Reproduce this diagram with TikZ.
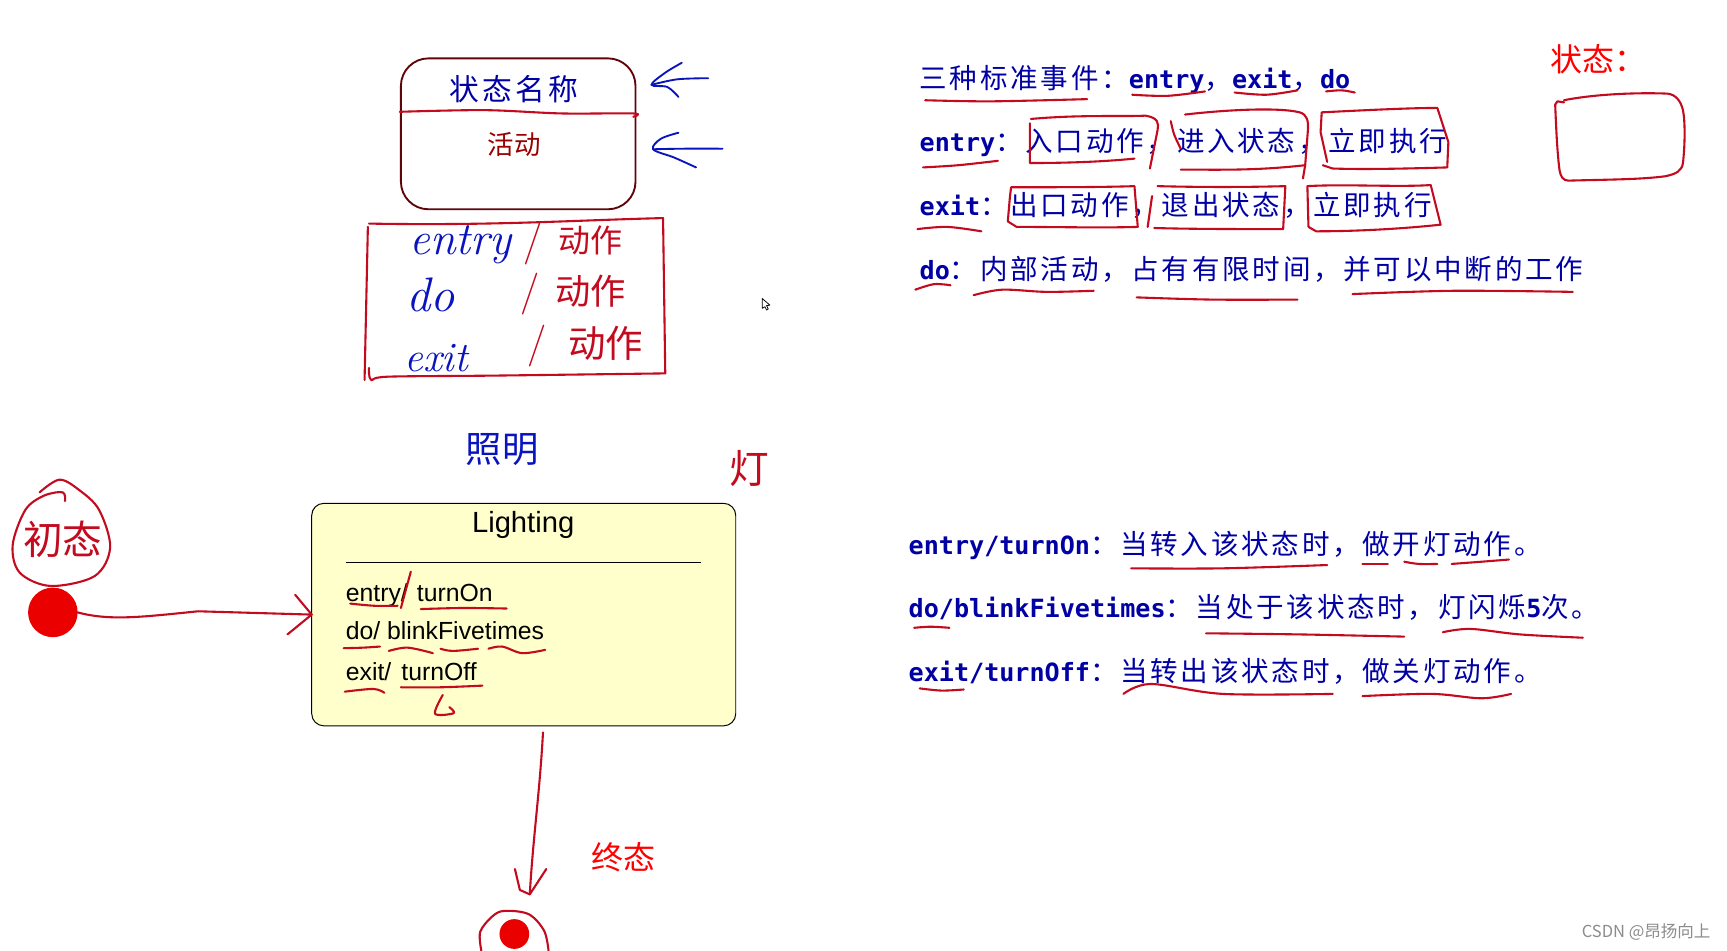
\documentclass[tikz,border=0pt]{standalone}
\usepackage{fontspec}
\newfontfamily\zhfont[LetterSpace=10]{Noto Sans CJK SC}
\newfontfamily\zhplain{Noto Sans CJK SC}
\newfontfamily\monob{DejaVu Sans Mono}
\newfontfamily\arialf{Liberation Sans}
\definecolor{inkblue}{RGB}{0,0,165}
\definecolor{handblue}{RGB}{10,20,190}
\definecolor{handred}{RGB}{195,10,30}
\definecolor{puren}{RGB}{255,0,0}
\definecolor{boxdark}{RGB}{95,5,10}
\definecolor{boxfill}{RGB}{255,255,204}
\newcommand{\zh}[1]{{\zhfont\mdseries\fontsize{25}{30}\selectfont #1}}
\tikzset{
  every node/.style={inner sep=0pt,outer sep=0pt},
  rowtext/.style={anchor=base west,text=inkblue,font=\monob\bfseries\fontsize{22.8}{27}\selectfont},
  statebox/.style={draw=boxdark,line width=1.7pt,rounded corners=25pt,minimum width=213pt,minimum height=137pt,fill=white},
  lightbox/.style={draw=black,line width=0.9pt,rounded corners=11pt,minimum width=385pt,minimum height=202pt,fill=boxfill},
  actline/.style={anchor=base west,text=black,font=\arialf\fontsize{22.5}{27}\selectfont},
  hand/.style={draw=handred,line width=1.9pt,line cap=round,line join=round},
  handb/.style={draw=handblue,line width=1.7pt,line cap=round,line join=round},
  handtext/.style={text=handblue,font=\itshape},
  redword/.style={text=handred,font=\zhplain},
}
\newcommand{\st}[2][hand]{\draw[#1] plot[smooth,tension=0.55] coordinates {#2};}
\begin{document}
\begin{tikzpicture}[x=1pt,y=-1pt]
\useasboundingbox (0,0) rectangle (1568,863);
\fill[white] (0,0) rectangle (1568,863);

% state template
\node[statebox] (tmpl) at (470.5,121.5) {};
\node[text=inkblue,font=\zhplain\fontsize{27}{30}\selectfont] (tname) at (467,81) {\addfontfeature{LetterSpace=11}状态名称};
\node[text=red!60!black,font=\zhplain\fontsize{24}{28}\selectfont] (tact) at (467,131) {活动};
\st{(363,101.5) (440,100) (510,103) (575,103) (575,106)}
\coordinate (a1t) at (591.5,77);
\coordinate (a1s) at (643,71);
\coordinate (a2t) at (593,135.5);
\coordinate (a2s) at (656,135);
\st[handb]{(a1s) (615,72) (a1t)}
\st[handb]{(619,57) (604,66) (a1t) (606,79) (616,88)}
\st[handb]{(a2s) (620,135) (a2t)}
\st[handb]{(616,120.5) (600,126) (a2t) (612,143) (632,152)}

% handwritten box
\draw[hand] (334,206) -- (331,345);
\st{(335,334) (337,345) (352,342) (450,341) (604,339)}
\draw[hand] (335,203) .. controls (450,205) and (520,200) .. (602,198) -- (604,339);
\node[handtext,font=\itshape\fontsize{42}{44}\selectfont] (w1) at (418,222) {entry};
\node[handtext,font=\itshape\fontsize{44}{46}\selectfont] (w2) at (391,268) {do};
\node[handtext,font=\itshape\fontsize{38}{40}\selectfont] (w3) at (396,325) {exit};
\node[text=handred,font=\fontsize{38}{40}\selectfont] (s1) at (484,222) {/};
\node[text=handred,font=\fontsize{38}{40}\selectfont] (s2) at (481,267) {/};
\node[text=handred,font=\fontsize{38}{40}\selectfont] (s3) at (488,314) {/};
\node[redword,font=\zhplain\fontsize{29}{32}\selectfont] (d1) at (536,218) {动作};
\node[redword,font=\zhplain\fontsize{32}{34}\selectfont] (d2) at (536,264) {动作};
\node[redword,font=\zhplain\fontsize{34}{36}\selectfont] (d3) at (550,312) {动作};

% lighting
\node[text=handblue,font=\zhplain\fontsize{33}{36}\selectfont] (zm) at (456,408) {照明};
\node[redword,font=\zhplain\fontsize{36}{40}\selectfont] (deng) at (680,425) {灯};
\node[lightbox] (light) at (475.5,558) {};
\node[text=black,font=\arialf\fontsize{26.5}{30}\selectfont] (ltitle) at (475,477) {Lighting};
\draw[black,line width=0.7pt] (314,511) -- (636,511);
\node[actline] (l1) at (314,546) {entry/\hspace{2pt} turnOn};
\node[actline] (l2) at (314,581) {do/ blinkFivetimes};
\node[actline] (l3) at (314,618) {exit/\hspace{3pt} turnOff};
\st{(318,548) (340,550) (361,550)}
\draw[hand] (373,519) -- (364,552);
\st{(382,553) (420,552) (460,552.5)}
\st{(312,588.5) (330,588) (345,587)}
\st{(353,591) (370,588) (393,593)}
\st{(400,589) (411,591) (434,589)}
\st{(443.5,589) (456,587) (474,593) (495,590)}
\st{(313,628) (339,625.5) (349,629)}
\st{(364,624) (400,624) (438,622.5)}
\st{(402,631) (395,648) (412,647.5) (408,642)}

% initial
\node[circle,fill=puren!92!black,minimum size=45pt] (init) at (48,556) {};
\st{(36,447) (54,435.5) (72,445) (90,463) (100,497) (86,523) (46,532) (18,520) (11.5,495) (23,463) (40,450) (57,447) (59,455)}
\node[redword,font=\zhplain\fontsize{36}{38}\selectfont] (chu) at (57,490) {初态};
\draw[hand] (init.east) .. controls (100,564) and (130,560) .. (180,555) -- (light.west);
\draw[hand] (268,540) -- (light.west) -- (261,576);

% final
\coordinate (bstart) at (493,665);
\coordinate (btip) at (481,812);
\node[circle,fill=puren!92!black,minimum size=27pt] (fin) at (467,848) {};
\st{(437,863) (436,846) (447,832) (458,827) (480,830) (494,845) (498,863)}
\draw[hand] (bstart) .. controls (490,720) and (484,760) .. (btip);
\draw[hand] (467.5,789) -- (472,808) -- (btip) -- (496,789);
\node[text=puren,font=\zhplain\fontsize{29}{32}\selectfont] (zt) at (566,778) {终态};

% top right text
\node[rowtext] (r1) at (835,80) {\zh{三种标准事件：}entry\zh{，}exit\zh{，}do};
\node[rowtext] (r2) at (835,138) {entry\zh{：入口动作，进入状态，立即执行}};
\node[rowtext] (r3) at (835,196) {exit\zh{：出口动作，退出状态，立即执行}};
\node[rowtext] (r4) at (835,254) {do\zh{：内部活动，占有有限时间，并可以中断的工作}};

\st{(840,91) (900,92) (987,90)}
\st{(1028,86) (1060,87) (1094,83)}
\st{(1121,84) (1150,86) (1178,82)}
\st{(1204,83) (1218,82) (1230,84)}
\st{(838,152) (870,150) (906,146)}
\draw[hand] (935,112) -- (935,148) .. controls (980,148) and (1010,146) .. (1030,144);
\draw[hand] (936,108) .. controls (980,104) and (1020,106) .. (1040,105) .. controls (1052,107) and (1052,112) .. (1051,118) -- (1044,153);
\st{(1063,110) (1066,122) (1072,135)}
\draw[hand] (1076,104) .. controls (1110,100) and (1160,97) .. (1180,102) .. controls (1187,104) and (1188,110) .. (1187.5,118) -- (1185,150) -- (1183,162);
\draw[hand] (1072,154) .. controls (1110,154) and (1140,155) .. (1185,150);
\draw[hand] (1205,147) -- (1199,120) -- (1200,102) .. controls (1240,100) and (1280,98) .. (1305,98) -- (1315,129) -- (1314,152) .. controls (1280,153) and (1240,154) .. (1210,153) -- (1201,150);
\st{(833,208) (860,206) (891,210)}
\draw[hand] (918,170) .. controls (960,170) and (1000,170) .. (1030,169) -- (1033,206) .. controls (1000,207) and (960,206) .. (923,206) -- (915,201) -- (917,178) -- (918,170);
\draw[hand] (1046,178) -- (1042,206);
\draw[hand] (1051,169) .. controls (1090,170) and (1130,170) .. (1167,169) -- (1165,208) .. controls (1130,208) and (1080,208) .. (1048,207);
\draw[hand] (1188,206) -- (1187,169) .. controls (1220,167) and (1270,170) .. (1299,168) -- (1308,204) .. controls (1270,208) and (1230,210) .. (1195,210) -- (1188,206);
\st{(831,263) (848,258) (863,259)}
\st{(884,268) (910,263) (950,265) (993,264)}
\st{(1032,270) (1100,272) (1178,272)}
\st{(1228,267) (1320,264) (1428,265)}

% state: box
\node[text=puren,font=\zhplain\fontsize{29}{32}\selectfont] (zs) at (1451,54) {状态：};
\draw[hand] (1420,93) -- (1414,92) -- (1412,95) .. controls (1413,120) and (1414,140) .. (1416,155) .. controls (1417,160) and (1419,164) .. (1424,164) .. controls (1460,163) and (1490,163) .. (1512,160) .. controls (1522,158) and (1527,155) .. (1528,148) .. controls (1530,130) and (1530,110) .. (1528,100) .. controls (1526,92) and (1522,86) .. (1514,85) .. controls (1490,84) and (1450,85) .. (1420,91);

% lower text
\node[rowtext] (b1) at (825,503) {entry/turnOn\zh{：当转入该状态时，做开灯动作。}};
\node[rowtext] (b2) at (825,561) {do/blinkFivetimes\zh{：当处于该状态时，灯闪烁}5\zh{次。}};
\node[rowtext] (b3) at (825,619) {exit/turnOff\zh{：当转出该状态时，做关灯动作。}};
\st{(1027,516) (1110,516) (1205,513)}
\st{(1237,512) (1260,512)}
\st{(1275,510) (1288,512) (1305,512)}
\st{(1318,512) (1345,510) (1370,508)}
\st{(830,570) (845,569) (862,570)}
\st{(1095,575) (1180,576) (1275,578)}
\st{(1310,574) (1335,571) (1380,576) (1437,579)}
\st{(835,625) (855,627) (875,626)}
\st{(1020,630) (1045,621) (1110,630) (1210,630)}
\st{(1237,632) (1300,630) (1345,634) (1372,630)}

% pointer
\draw[black,line width=0.7pt,fill=white,line join=round] (692,271) -- (692,280) -- (694.5,278.5) -- (696,281.5) -- (697.5,280.5) -- (696,277.5) -- (699,277) -- cycle;
% watermark
\node[anchor=east,text=black!45,font=\zhplain\fontsize{15}{17}\selectfont] (wm) at (1553,846) {CSDN @昂扬向上};
\end{tikzpicture}
\end{document}
